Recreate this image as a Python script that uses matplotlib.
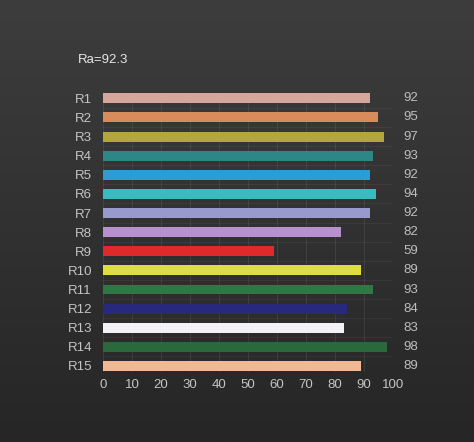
import numpy as np
import matplotlib.pyplot as plt

# Data
labels = ['R1', 'R2', 'R3', 'R4', 'R5', 'R6', 'R7', 'R8',
          'R9', 'R10', 'R11', 'R12', 'R13', 'R14', 'R15']
values = [92, 95, 97, 93, 92, 94, 92, 82, 59, 89, 93, 84, 83, 98, 89]
colors = ['#d4a69c', '#d88c5c', '#b2a63c', '#2e8787', '#2a9dd2',
          '#38bcc0', '#9899cc', '#b791cf', '#e0292a', '#dcde42',
          '#2f7845', '#28287c', '#f3f0f6', '#2b683b', '#f0b993']
ra_text = 'Ra=92.3'
xticks = list(range(0, 101, 10))

plt.rcParams['font.family'] = ['Liberation Sans', 'DejaVu Sans']

fig = plt.figure(figsize=(4.74, 4.42), dpi=100)

# gradient background
bg = fig.add_axes([0, 0, 1, 1], zorder=0)
grad = np.linspace(0, 1, 256).reshape(-1, 1)
from matplotlib.colors import LinearSegmentedColormap
cmap = LinearSegmentedColormap.from_list('bg', ['#3d3d3d', '#262626'])
bg.imshow(grad, aspect='auto', cmap=cmap, extent=[0, 1, 0, 1])
bg.axis('off')

ax = fig.add_axes([0.2173, 0.159, 0.6118, 0.6315], zorder=1)
ax.patch.set_alpha(0)

y = np.arange(len(labels))
ax.barh(y, values, height=0.52, color=colors, zorder=3)

# faint grid
for xv in xticks:
    ax.axvline(xv, color='#ffffff', alpha=0.08, lw=0.8, zorder=1)
for yv in np.arange(-0.5, len(labels), 1.0):
    ax.plot([0, 100], [yv, yv], color='#ffffff', alpha=0.05, lw=0.8, zorder=1)

for yi, v in zip(y, values):
    ax.text(106, yi, str(v), ha='center', va='center', color='#bdbdbd',
            fontsize=9.5, clip_on=False)

ax.set_xlim(0, 100)
ax.set_ylim(len(labels) - 0.7, -0.3)
ax.set_yticks(y)
ax.set_yticklabels(labels)
ax.set_xticks(xticks)
ax.tick_params(axis='both', length=0, colors='#c4c4c4', labelsize=9.5)
ax.tick_params(axis='y', pad=8)
ax.tick_params(axis='x', pad=5)
for s in ax.spines.values():
    s.set_visible(False)

fig.text(78 / 474, 1 - 60 / 442, ra_text, ha='left', va='center',
         color='#e6e6e6', fontsize=9.5)

fig.savefig('out.png', dpi=100)
